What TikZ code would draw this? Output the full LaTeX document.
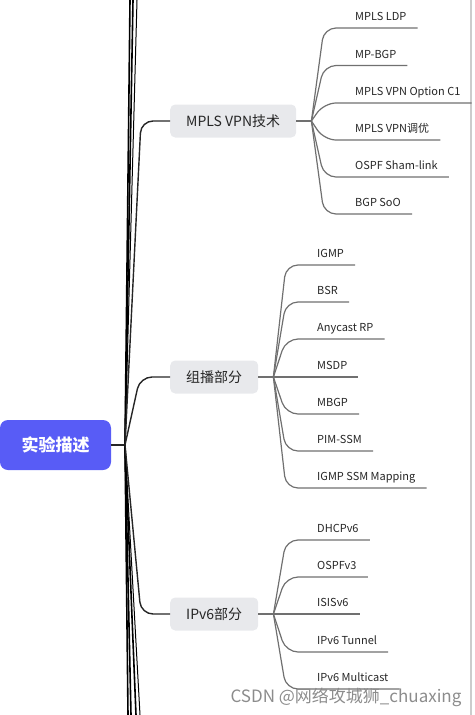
\documentclass[tikz,border=0pt]{standalone}
\usepackage{fontspec}
\setmainfont{Noto Sans CJK SC}
\usepackage{tikz}

\definecolor{rootblue}{RGB}{88,92,246}
\definecolor{topicgray}{RGB}{232,233,236}
\definecolor{leafgray}{RGB}{112,112,112}
\definecolor{textdark}{RGB}{38,38,38}

\tikzset{
  rootbox/.style={fill=rootblue, text=white, rounded corners=8pt, minimum width=111pt,
    minimum height=50pt, font=\fontsize{17}{20}\selectfont\bfseries},
  topicbox/.style={fill=topicgray, text=textdark, rounded corners=5pt, minimum height=33pt,
    inner xsep=16pt, anchor=west, font=\fontsize{14}{17}\selectfont},
  leaf/.style={anchor=south west, inner xsep=11pt, inner ysep=7pt, text depth=0pt,
    text=textdark, font=\fontsize{11}{13}\selectfont},
  trunk/.style={line width=1.6pt, black},
  branchline/.style={line width=1.4pt, black!85, rounded corners=12pt},
  leafline/.style={line width=1.2pt, leafgray, rounded corners=12pt},
  watermark/.style={text=black!45, font=\fontsize{17}{20}\selectfont}
}

\begin{document}
\begin{tikzpicture}[x=1pt,y=-1pt]
\useasboundingbox (0,0) rectangle (474,715);
\draw[black!20, line width=2pt] (470.5,0) -- (470.5,715);

\node[rootbox] (root) at (55.5,445) {实验描述};
\coordinate (hub) at (125,445);
\coordinate (upa) at (130,0);
\coordinate (upb) at (133,0);
\coordinate (upc) at (137,0);
\coordinate (downa) at (128,715);
\coordinate (downb) at (131,715);
\coordinate (downc) at (136,715);
\coordinate (downd) at (140,715);

\node[topicbox] (mpls) at (170,121) {MPLS VPN技术};
\node[topicbox] (mcast) at (170,377) {组播部分};
\node[topicbox] (ipv6) at (170,614) {IPv6部分};

\draw[branchline] (root.east) -- (hub);
\draw[trunk] (hub) -- (upa);
\draw[trunk] (hub) -- (upb);
\draw[trunk, line width=1pt] (hub) -- (upc);
\draw[trunk] (hub) -- (downa);
\draw[trunk] (hub) -- (downb);
\draw[trunk] (hub) -- (downc);
\draw[trunk, line width=1pt] (hub) -- (downd);
\draw[branchline] (hub) -- ([xshift=-29]mpls.west) -- (mpls.west);
\draw[branchline] (hub) -- ([xshift=-30]mcast.west) -- (mcast.west);
\draw[branchline] (hub) -- ([xshift=-29]ipv6.west) -- (ipv6.west);

\coordinate (mplsfan) at ([xshift=15]mpls.east);
\coordinate (mcastfan) at ([xshift=15]mcast.east);
\coordinate (ipvfan) at ([xshift=15]ipv6.east);

\node[leaf] (ldp) at (344,28) {MPLS LDP};
\node[leaf] (mpbgp) at (344,65.5) {MP-BGP};
\node[leaf] (optc) at (344,103) {MPLS VPN Option C1};
\node[leaf] (tune) at (344,140) {MPLS VPN调优};
\node[leaf] (sham) at (344,177) {OSPF Sham-link};
\node[leaf] (soo) at (344,214) {BGP SoO};

\draw[leafline] (mpls.east) -- (mplsfan);
\draw[leafline] (mplsfan) -- ([xshift=-20]ldp.south west) -- (ldp.south east);
\draw[leafline] (mplsfan) -- ([xshift=-20]mpbgp.south west) -- (mpbgp.south east);
\draw[leafline] (mplsfan) -- ([xshift=-20]optc.south west) -- (optc.south east);
\draw[leafline] (mplsfan) -- ([xshift=-20]tune.south west) -- (tune.south east);
\draw[leafline] (mplsfan) -- ([xshift=-20]sham.south west) -- (sham.south east);
\draw[leafline] (mplsfan) -- ([xshift=-20]soo.south west) -- (soo.south east);

\node[leaf] (igmp) at (306,265) {IGMP};
\node[leaf] (bsr) at (306,302) {BSR};
\node[leaf] (anyrp) at (306,339) {Anycast RP};
\node[leaf] (msdp) at (306,377) {MSDP};
\node[leaf] (mbgp) at (306,414) {MBGP};
\node[leaf] (pimssm) at (306,451) {PIM-SSM};
\node[leaf] (ssmmap) at (306,488) {IGMP SSM Mapping};

\draw[leafline] (mcast.east) -- (mcastfan);
\draw[leafline] (mcastfan) -- ([xshift=-20]igmp.south west) -- (igmp.south east);
\draw[leafline] (mcastfan) -- ([xshift=-20]bsr.south west) -- (bsr.south east);
\draw[leafline] (mcastfan) -- ([xshift=-20]anyrp.south west) -- (anyrp.south east);
\draw[leafline] (mcastfan) -- ([xshift=-20]msdp.south west) -- (msdp.south east);
\draw[leafline] (mcastfan) -- ([xshift=-20]mbgp.south west) -- (mbgp.south east);
\draw[leafline] (mcastfan) -- ([xshift=-20]pimssm.south west) -- (pimssm.south east);
\draw[leafline] (mcastfan) -- ([xshift=-20]ssmmap.south west) -- (ssmmap.south east);

\node[leaf] (dhcp) at (306,540) {DHCPv6};
\node[leaf] (ospfv) at (306,577) {OSPFv3};
\node[leaf] (isis) at (306,614) {ISISv6};
\node[leaf] (tunnel) at (306,652) {IPv6 Tunnel};
\node[leaf] (multi) at (306,689) {IPv6 Multicast};

\draw[leafline] (ipv6.east) -- (ipvfan);
\draw[leafline] (ipvfan) -- ([xshift=-20]dhcp.south west) -- (dhcp.south east);
\draw[leafline] (ipvfan) -- ([xshift=-20]ospfv.south west) -- (ospfv.south east);
\draw[leafline] (ipvfan) -- ([xshift=-20]isis.south west) -- (isis.south east);
\draw[leafline] (ipvfan) -- ([xshift=-20]tunnel.south west) -- (tunnel.south east);
\draw[leafline] (ipvfan) -- ([xshift=-20]multi.south west) -- (multi.south east);

\node[watermark] (mark) at (346,697) {CSDN @网络攻城狮\_chuaxing};
\end{tikzpicture}
\end{document}
